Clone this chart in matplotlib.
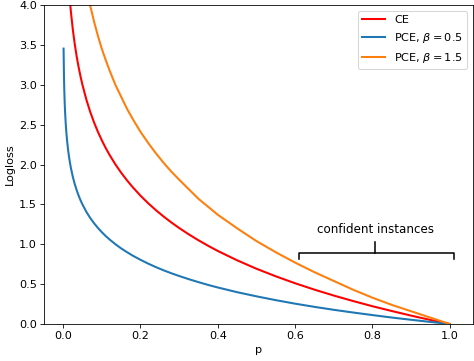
import matplotlib
matplotlib.use("Agg")
import matplotlib.pyplot as plt
import numpy as np

# values
p = [0.001, 0.002, 0.003, 0.004, 0.005, 0.0065, 0.008, 0.01, 0.0125, 0.015,
     0.0175, 0.02, 0.025, 0.03, 0.035, 0.04, 0.045, 0.05, 0.06, 0.07,
     0.08, 0.09, 0.1, 0.11, 0.12, 0.135, 0.15, 0.165, 0.18, 0.2,
     0.22, 0.24, 0.26, 0.28, 0.3, 0.325, 0.35, 0.375, 0.4, 0.45,
     0.5, 0.55, 0.6, 0.65, 0.7, 0.75, 0.8, 0.85, 0.9, 0.95, 1.0]
ce = [6.908, 6.215, 5.809, 5.521, 5.298, 5.036, 4.828, 4.605, 4.382, 4.200,
      4.046, 3.912, 3.689, 3.507, 3.352, 3.219, 3.101, 2.996, 2.813, 2.659,
      2.526, 2.408, 2.303, 2.207, 2.120, 2.002, 1.897, 1.802, 1.715, 1.609,
      1.514, 1.427, 1.347, 1.273, 1.204, 1.124, 1.050, 0.981, 0.916, 0.799,
      0.693, 0.598, 0.511, 0.431, 0.357, 0.288, 0.223, 0.163, 0.105, 0.051, 0.0]
pce_05 = [3.454, 3.107, 2.905, 2.760, 2.649, 2.518, 2.414, 2.303, 2.191, 2.100,
          2.023, 1.956, 1.844, 1.753, 1.676, 1.609, 1.550, 1.498, 1.406, 1.329,
          1.263, 1.204, 1.151, 1.103, 1.060, 1.001, 0.948, 0.901, 0.857, 0.805,
          0.757, 0.713, 0.673, 0.636, 0.602, 0.562, 0.525, 0.490, 0.458, 0.399,
          0.347, 0.299, 0.255, 0.215, 0.178, 0.144, 0.112, 0.081, 0.053, 0.026, 0.0]
pce_15 = [10.36, 9.32, 8.71, 8.28, 7.95, 7.55, 7.24, 6.91, 6.57, 6.30,
          6.07, 5.87, 5.53, 5.26, 5.03, 4.83, 4.65, 4.49, 4.22, 3.99,
          3.79, 3.61, 3.45, 3.31, 3.18, 3.00, 2.85, 2.70, 2.57, 2.41,
          2.27, 2.14, 2.02, 1.91, 1.81, 1.69, 1.57, 1.47, 1.37, 1.20,
          1.04, 0.90, 0.77, 0.65, 0.54, 0.43, 0.33, 0.24, 0.16, 0.08, 0.0]

# bracket for the "confident instances" note
br_left, br_right, br_mid = 0.61, 1.01, 0.808
br_y, br_drop, br_top = 0.89, 0.07, 1.03
note_y = 1.19

plt.rcParams["font.size"] = 11

fig = plt.figure(figsize=(474 / 74, 361 / 74), dpi=74)
ax = fig.add_axes([0.093, 0.1025, 0.905, 0.8835])

ax.plot(p, ce, color="red", lw=2, label="CE")
ax.plot(p, pce_05, color="tab:blue", lw=2, label=r"PCE, $\beta = 0.5$")
ax.plot(p, pce_15, color="tab:orange", lw=2, label=r"PCE, $\beta = 1.5$")

ax.plot([br_left, br_left, br_right, br_right],
        [br_y - br_drop, br_y, br_y, br_y - br_drop], color="black", lw=1.5)
ax.plot([br_mid, br_mid], [br_y, br_top], color="black", lw=1.5)
ax.text(br_mid, note_y, "confident instances", ha="center", va="center",
        fontsize=11.5)

ax.set_ylim(0, 4)
ax.set_xticks(np.arange(0, 1.01, 0.2))
ax.set_yticks(np.arange(0, 4.01, 0.5))
ax.set_xlabel("p")
ax.set_ylabel("Logloss")
ax.legend(loc="upper right")

fig.savefig("out.png", dpi=74)
